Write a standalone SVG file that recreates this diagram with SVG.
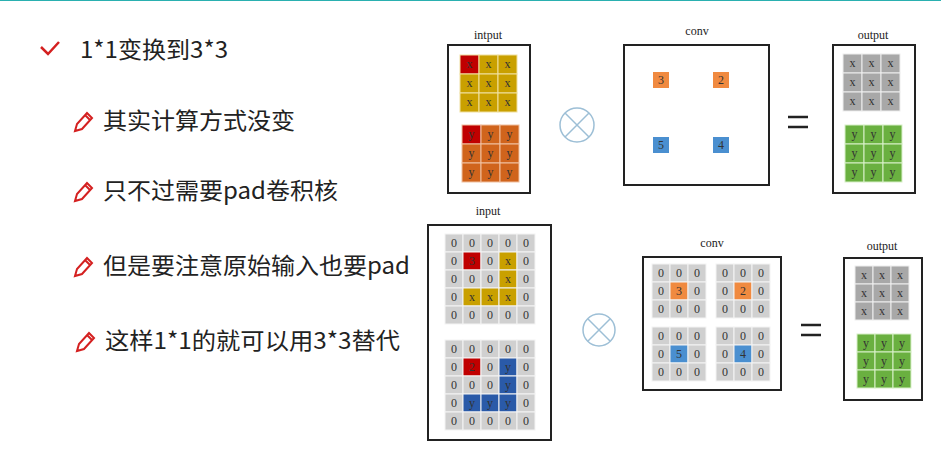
<svg xmlns="http://www.w3.org/2000/svg" width="941" height="457" viewBox="0 0 941 457">
<style>
.t{font-family:"Noto Sans CJK SC","Noto Sans",sans-serif;font-size:23px;fill:#222}
.lb{font-family:"Liberation Serif",serif;font-size:12px;fill:#222;text-anchor:middle}
.c{font-family:"Liberation Serif",serif;font-size:12px;fill:#333;text-anchor:middle;dominant-baseline:central}
.box{fill:#fff;stroke:#222;stroke-width:2}
.pen{fill:none;stroke:#d42020;stroke-width:2}
</style>
<rect width="941" height="457" fill="#fff"/>
<line x1="0" y1="0.5" x2="941" y2="0.5" stroke="#2ab0b0" stroke-width="1"/>
<g id="bullets">
<path d="M41 47 L48 54 L59 42" fill="none" stroke="#d42020" stroke-width="2.5"/>
<text class="t" x="80" y="58" textLength="148" lengthAdjust="spacingAndGlyphs">1*1变换到3*3</text>
<g class="pen"><path d="M75 131 l2-7 10-11 5 5 -10 11 z M85 115 l5 5"/></g>
<text class="t" x="103" y="129" textLength="192" lengthAdjust="spacingAndGlyphs">其实计算方式没变</text>
<g class="pen"><path d="M75 201 l2-7 10-11 5 5 -10 11 z M85 185 l5 5"/></g>
<text class="t" x="103" y="199" textLength="235" lengthAdjust="spacingAndGlyphs">只不过需要pad卷积核</text>
<g class="pen"><path d="M75 276 l2-7 10-11 5 5 -10 11 z M85 260 l5 5"/></g>
<text class="t" x="103" y="274" textLength="307" lengthAdjust="spacingAndGlyphs">但是要注意原始输入也要pad</text>
<g class="pen"><path d="M77 351 l2-7 10-11 5 5 -10 11 z M87 335 l5 5"/></g>
<text class="t" x="105" y="349" textLength="295" lengthAdjust="spacingAndGlyphs">这样1*1的就可以用3*3替代</text>
</g>
<g id="connectors">
<g fill="none" stroke="#9dbfd6" stroke-width="1.5">
<circle cx="577" cy="125" r="17"/><path d="M565 113 L589 137 M589 113 L565 137"/>
<circle cx="599" cy="330" r="16"/><path d="M588 319 L610 341 M610 319 L588 341"/>
</g>
<g stroke="#222" stroke-width="2.5">
<path d="M788 117 H808 M788 127 H808"/>
<path d="M801 325 H821 M801 335 H821"/>
</g>
</g>
<g id="top-input">
<text class="lb" x="488" y="39">intput</text>
<rect class="box" x="448" y="45" width="82" height="148"/>
<g stroke="#f0e0a0" fill="#c9a000">
<rect x="460" y="55" width="19" height="19" fill="#c00000"/><rect x="479" y="55" width="19" height="19"/><rect x="498" y="55" width="19" height="19"/>
<rect x="460" y="74" width="19" height="19"/><rect x="479" y="74" width="19" height="19"/><rect x="498" y="74" width="19" height="19"/>
<rect x="460" y="93" width="19" height="19"/><rect x="479" y="93" width="19" height="19"/><rect x="498" y="93" width="19" height="19"/>
</g>
<g stroke="#f0c0a0" fill="#d0641c">
<rect x="462" y="125" width="19" height="19" fill="#c00000"/><rect x="481" y="125" width="19" height="19"/><rect x="500" y="125" width="19" height="19"/>
<rect x="462" y="144" width="19" height="19"/><rect x="481" y="144" width="19" height="19"/><rect x="500" y="144" width="19" height="19"/>
<rect x="462" y="163" width="19" height="19"/><rect x="481" y="163" width="19" height="19"/><rect x="500" y="163" width="19" height="19"/>
</g>
<g class="c">
<text x="469.5" y="64">x</text><text x="488.5" y="64">x</text><text x="507.5" y="64">x</text>
<text x="469.5" y="83">x</text><text x="488.5" y="83">x</text><text x="507.5" y="83">x</text>
<text x="469.5" y="102">x</text><text x="488.5" y="102">x</text><text x="507.5" y="102">x</text>
<text x="471.5" y="134">y</text><text x="490.5" y="134">y</text><text x="509.5" y="134">y</text>
<text x="471.5" y="153">y</text><text x="490.5" y="153">y</text><text x="509.5" y="153">y</text>
<text x="471.5" y="172">y</text><text x="490.5" y="172">y</text><text x="509.5" y="172">y</text>
</g>
</g>
<g id="top-conv">
<text class="lb" x="697" y="35">conv</text>
<rect class="box" x="624" y="45" width="145" height="140"/>
<rect x="653" y="72" width="16" height="16" fill="#f08a40"/><rect x="713" y="72" width="16" height="16" fill="#f08a40"/>
<rect x="653" y="137" width="16" height="16" fill="#4a8fd0"/><rect x="713" y="137" width="16" height="16" fill="#4a8fd0"/>
<g class="c"><text x="661" y="80">3</text><text x="721" y="80">2</text><text x="661" y="145">5</text><text x="721" y="145">4</text></g>
</g>
<g id="top-output">
<text class="lb" x="873" y="39">output</text>
<rect class="box" x="833" y="45" width="82" height="148"/>
<g stroke="#eee" fill="#a8a8a8">
<rect x="843" y="54" width="19" height="19"/><rect x="862" y="54" width="19" height="19"/><rect x="881" y="54" width="19" height="19"/>
<rect x="843" y="73" width="19" height="19"/><rect x="862" y="73" width="19" height="19"/><rect x="881" y="73" width="19" height="19"/>
<rect x="843" y="92" width="19" height="19"/><rect x="862" y="92" width="19" height="19"/><rect x="881" y="92" width="19" height="19"/>
</g>
<g stroke="#d8f0c8" fill="#6ab040">
<rect x="845" y="125" width="19" height="19"/><rect x="864" y="125" width="19" height="19"/><rect x="883" y="125" width="19" height="19"/>
<rect x="845" y="144" width="19" height="19"/><rect x="864" y="144" width="19" height="19"/><rect x="883" y="144" width="19" height="19"/>
<rect x="845" y="163" width="19" height="19"/><rect x="864" y="163" width="19" height="19"/><rect x="883" y="163" width="19" height="19"/>
</g>
<g class="c">
<text x="852.5" y="63">x</text><text x="871.5" y="63">x</text><text x="890.5" y="63">x</text>
<text x="852.5" y="82">x</text><text x="871.5" y="82">x</text><text x="890.5" y="82">x</text>
<text x="852.5" y="101">x</text><text x="871.5" y="101">x</text><text x="890.5" y="101">x</text>
<text x="854.5" y="134">y</text><text x="873.5" y="134">y</text><text x="892.5" y="134">y</text>
<text x="854.5" y="153">y</text><text x="873.5" y="153">y</text><text x="892.5" y="153">y</text>
<text x="854.5" y="172">y</text><text x="873.5" y="172">y</text><text x="892.5" y="172">y</text>
</g>
</g>
<g id="bottom-input">
<text class="lb" x="488" y="215">input</text>
<rect class="box" x="428" y="225" width="123" height="215"/>
<g stroke="#f4f4f4" fill="#d0d0d0">
<rect x="445" y="234" width="18" height="18"/><rect x="463" y="234" width="18" height="18"/><rect x="481" y="234" width="18" height="18"/><rect x="499" y="234" width="18" height="18"/><rect x="517" y="234" width="18" height="18"/>
<rect x="445" y="252" width="18" height="18"/><rect x="463" y="252" width="18" height="18" fill="#c00000"/><rect x="481" y="252" width="18" height="18"/><rect x="499" y="252" width="18" height="18" fill="#c9a000"/><rect x="517" y="252" width="18" height="18"/>
<rect x="445" y="270" width="18" height="18"/><rect x="463" y="270" width="18" height="18"/><rect x="481" y="270" width="18" height="18"/><rect x="499" y="270" width="18" height="18" fill="#c9a000"/><rect x="517" y="270" width="18" height="18"/>
<rect x="445" y="288" width="18" height="18"/><rect x="463" y="288" width="18" height="18" fill="#c9a000"/><rect x="481" y="288" width="18" height="18" fill="#c9a000"/><rect x="499" y="288" width="18" height="18" fill="#c9a000"/><rect x="517" y="288" width="18" height="18"/>
<rect x="445" y="306" width="18" height="18"/><rect x="463" y="306" width="18" height="18"/><rect x="481" y="306" width="18" height="18"/><rect x="499" y="306" width="18" height="18"/><rect x="517" y="306" width="18" height="18"/>
<rect x="445" y="340" width="18" height="18"/><rect x="463" y="340" width="18" height="18"/><rect x="481" y="340" width="18" height="18"/><rect x="499" y="340" width="18" height="18"/><rect x="517" y="340" width="18" height="18"/>
<rect x="445" y="358" width="18" height="18"/><rect x="463" y="358" width="18" height="18" fill="#c00000"/><rect x="481" y="358" width="18" height="18"/><rect x="499" y="358" width="18" height="18" fill="#2a5aa8"/><rect x="517" y="358" width="18" height="18"/>
<rect x="445" y="376" width="18" height="18"/><rect x="463" y="376" width="18" height="18"/><rect x="481" y="376" width="18" height="18"/><rect x="499" y="376" width="18" height="18" fill="#2a5aa8"/><rect x="517" y="376" width="18" height="18"/>
<rect x="445" y="394" width="18" height="18"/><rect x="463" y="394" width="18" height="18" fill="#2a5aa8"/><rect x="481" y="394" width="18" height="18" fill="#2a5aa8"/><rect x="499" y="394" width="18" height="18" fill="#2a5aa8"/><rect x="517" y="394" width="18" height="18"/>
<rect x="445" y="412" width="18" height="18"/><rect x="463" y="412" width="18" height="18"/><rect x="481" y="412" width="18" height="18"/><rect x="499" y="412" width="18" height="18"/><rect x="517" y="412" width="18" height="18"/>
</g>
<g class="c">
<text x="454" y="243">0</text><text x="472" y="243">0</text><text x="490" y="243">0</text><text x="508" y="243">0</text><text x="526" y="243">0</text>
<text x="454" y="261">0</text><text x="472" y="261">3</text><text x="490" y="261">0</text><text x="508" y="261">x</text><text x="526" y="261">0</text>
<text x="454" y="279">0</text><text x="472" y="279">0</text><text x="490" y="279">0</text><text x="508" y="279">x</text><text x="526" y="279">0</text>
<text x="454" y="297">0</text><text x="472" y="297">x</text><text x="490" y="297">x</text><text x="508" y="297">x</text><text x="526" y="297">0</text>
<text x="454" y="315">0</text><text x="472" y="315">0</text><text x="490" y="315">0</text><text x="508" y="315">0</text><text x="526" y="315">0</text>
<text x="454" y="349">0</text><text x="472" y="349">0</text><text x="490" y="349">0</text><text x="508" y="349">0</text><text x="526" y="349">0</text>
<text x="454" y="367">0</text><text x="472" y="367">2</text><text x="490" y="367">0</text><text x="508" y="367">y</text><text x="526" y="367">0</text>
<text x="454" y="385">0</text><text x="472" y="385">0</text><text x="490" y="385">0</text><text x="508" y="385">y</text><text x="526" y="385">0</text>
<text x="454" y="403">0</text><text x="472" y="403">y</text><text x="490" y="403">y</text><text x="508" y="403">y</text><text x="526" y="403">0</text>
<text x="454" y="421">0</text><text x="472" y="421">0</text><text x="490" y="421">0</text><text x="508" y="421">0</text><text x="526" y="421">0</text>
</g>
</g>
<g id="bottom-conv">
<text class="lb" x="712" y="247">conv</text>
<rect class="box" x="643" y="257" width="138" height="133"/>
<g stroke="#f4f4f4" fill="#d0d0d0">
<rect x="652" y="264" width="18" height="18"/><rect x="670" y="264" width="18" height="18"/><rect x="688" y="264" width="18" height="18"/>
<rect x="652" y="282" width="18" height="18"/><rect x="670" y="282" width="18" height="18" fill="#f08a40"/><rect x="688" y="282" width="18" height="18"/>
<rect x="652" y="300" width="18" height="18"/><rect x="670" y="300" width="18" height="18"/><rect x="688" y="300" width="18" height="18"/>
<rect x="716" y="264" width="18" height="18"/><rect x="734" y="264" width="18" height="18"/><rect x="752" y="264" width="18" height="18"/>
<rect x="716" y="282" width="18" height="18"/><rect x="734" y="282" width="18" height="18" fill="#f08a40"/><rect x="752" y="282" width="18" height="18"/>
<rect x="716" y="300" width="18" height="18"/><rect x="734" y="300" width="18" height="18"/><rect x="752" y="300" width="18" height="18"/>
<rect x="652" y="327" width="18" height="18"/><rect x="670" y="327" width="18" height="18"/><rect x="688" y="327" width="18" height="18"/>
<rect x="652" y="345" width="18" height="18"/><rect x="670" y="345" width="18" height="18" fill="#4a8fd0"/><rect x="688" y="345" width="18" height="18"/>
<rect x="652" y="363" width="18" height="18"/><rect x="670" y="363" width="18" height="18"/><rect x="688" y="363" width="18" height="18"/>
<rect x="716" y="327" width="18" height="18"/><rect x="734" y="327" width="18" height="18"/><rect x="752" y="327" width="18" height="18"/>
<rect x="716" y="345" width="18" height="18"/><rect x="734" y="345" width="18" height="18" fill="#4a8fd0"/><rect x="752" y="345" width="18" height="18"/>
<rect x="716" y="363" width="18" height="18"/><rect x="734" y="363" width="18" height="18"/><rect x="752" y="363" width="18" height="18"/>
</g>
<g class="c">
<text x="661" y="273">0</text><text x="679" y="273">0</text><text x="697" y="273">0</text><text x="725" y="273">0</text><text x="743" y="273">0</text><text x="761" y="273">0</text>
<text x="661" y="291">0</text><text x="679" y="291">3</text><text x="697" y="291">0</text><text x="725" y="291">0</text><text x="743" y="291">2</text><text x="761" y="291">0</text>
<text x="661" y="309">0</text><text x="679" y="309">0</text><text x="697" y="309">0</text><text x="725" y="309">0</text><text x="743" y="309">0</text><text x="761" y="309">0</text>
<text x="661" y="336">0</text><text x="679" y="336">0</text><text x="697" y="336">0</text><text x="725" y="336">0</text><text x="743" y="336">0</text><text x="761" y="336">0</text>
<text x="661" y="354">0</text><text x="679" y="354">5</text><text x="697" y="354">0</text><text x="725" y="354">0</text><text x="743" y="354">4</text><text x="761" y="354">0</text>
<text x="661" y="372">0</text><text x="679" y="372">0</text><text x="697" y="372">0</text><text x="725" y="372">0</text><text x="743" y="372">0</text><text x="761" y="372">0</text>
</g>
</g>
<g id="bottom-output">
<text class="lb" x="882" y="250">output</text>
<rect class="box" x="844" y="258" width="78" height="142"/>
<g stroke="#eee" fill="#a8a8a8">
<rect x="855" y="266" width="18" height="18"/><rect x="873" y="266" width="18" height="18"/><rect x="891" y="266" width="18" height="18"/>
<rect x="855" y="284" width="18" height="18"/><rect x="873" y="284" width="18" height="18"/><rect x="891" y="284" width="18" height="18"/>
<rect x="855" y="302" width="18" height="18"/><rect x="873" y="302" width="18" height="18"/><rect x="891" y="302" width="18" height="18"/>
</g>
<g stroke="#d8f0c8" fill="#6ab040">
<rect x="857" y="334" width="18" height="18"/><rect x="875" y="334" width="18" height="18"/><rect x="893" y="334" width="18" height="18"/>
<rect x="857" y="352" width="18" height="18"/><rect x="875" y="352" width="18" height="18"/><rect x="893" y="352" width="18" height="18"/>
<rect x="857" y="370" width="18" height="18"/><rect x="875" y="370" width="18" height="18"/><rect x="893" y="370" width="18" height="18"/>
</g>
<g class="c">
<text x="864" y="275">x</text><text x="882" y="275">x</text><text x="900" y="275">x</text>
<text x="864" y="293">x</text><text x="882" y="293">x</text><text x="900" y="293">x</text>
<text x="864" y="311">x</text><text x="882" y="311">x</text><text x="900" y="311">x</text>
<text x="866" y="343">y</text><text x="884" y="343">y</text><text x="902" y="343">y</text>
<text x="866" y="361">y</text><text x="884" y="361">y</text><text x="902" y="361">y</text>
<text x="866" y="379">y</text><text x="884" y="379">y</text><text x="902" y="379">y</text>
</g>
</g>
</svg>
